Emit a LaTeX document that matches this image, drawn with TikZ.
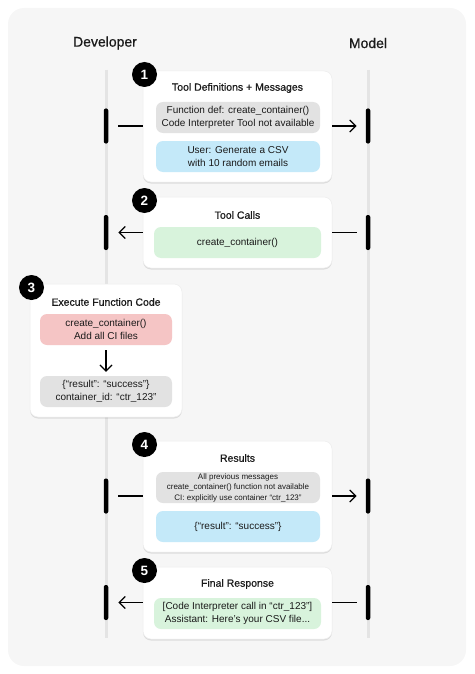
\documentclass[tikz,border=0pt]{standalone}
\usepackage{fontspec}
\setmainfont{Liberation Sans}
\newfontfamily\medfont[FakeBold=0.6]{Liberation Sans}
\usetikzlibrary{arrows.meta,shadows}
\definecolor{panel}{HTML}{F6F6F6}
\definecolor{lifegray}{HTML}{E4E4E4}
\definecolor{subgray}{HTML}{E2E2E2}
\definecolor{subblue}{HTML}{C4E9F9}
\definecolor{subgreen}{HTML}{D8F3DC}
\definecolor{subred}{HTML}{F5C5C5}
\definecolor{ink}{HTML}{1A1A1A}
\begin{document}
\begin{tikzpicture}[x=1pt,y=-1pt,
  every node/.style={text=ink},
  box/.style={fill=white, draw=black!7, line width=0.5pt, rounded corners=8pt, inner sep=0pt,
    drop shadow={shadow xshift=0pt, shadow yshift=-1.5pt, opacity=0.10, fill=black}},
  sub/.style={rounded corners=7pt, inner sep=0pt, align=center, minimum height=31pt,
    font=\fontsize{10}{13.5}\selectfont},
  smallsub/.style={sub, font=\fontsize{8}{10.5}\selectfont},
  title/.style={font=\medfont\fontsize{10.5}{12}\selectfont, inner sep=0pt},
  header/.style={font=\medfont\fontsize{14}{16}\selectfont, inner sep=0pt},
  badge/.style={circle, fill=black, minimum size=25pt, inner sep=0pt,
    text=white, font=\bfseries\fontsize{13.5}{14}\selectfont},
  bar/.style={fill=black, rounded corners=2pt, minimum width=4.5pt, minimum height=35pt, inner sep=0pt},
  lifeline/.style={draw=lifegray, line width=3pt},
  conn/.style={draw=black, line width=1.2pt},
  arr/.style={conn, -{Straight Barb[length=6pt,width=12pt]}}
]
\useasboundingbox (0,0) rectangle (474,674);
% panel
\fill[panel, rounded corners=16pt] (8,8) rectangle (466,666);
% headers
\node[header] (dev) at (105,43) {Developer};
\node[header] (mod) at (368,43) {Model};
% lifelines
\coordinate (devtop) at (106,70);
\coordinate (devbot) at (106,638);
\coordinate (modtop) at (368,70);
\coordinate (modbot) at (368,638);
\draw[lifeline] (devtop) -- (devbot);
\draw[lifeline] (modtop) -- (modbot);

% ---- step 1
\node[box, minimum width=189pt, minimum height=111pt] (box1) at (237.5,126.5) {};
\node[title] (t1) at (237.5,88) {Tool Definitions + Messages};
\node[sub, fill=subgray, minimum width=164pt] (s1a) at (238,117.5) {Function def: create\_container()\\Code Interpreter Tool not available};
\node[sub, fill=subblue, minimum width=164pt] (s1b) at (238,156.5) {User: Generate a CSV\\with 10 random emails};
\node[badge] (b1) at (144.5,74.5) {1};
\node[bar] (l1) at (106,126) {};
\node[bar] (r1) at (368,126) {};
\draw[conn, shorten <=10pt] (l1) -- (l1 -| box1.west);
\draw[arr, shorten >=9pt] (r1 -| box1.east) -- (r1);

% ---- step 2
\node[box, minimum width=189pt, minimum height=71pt] (box2) at (237.5,232.5) {};
\node[title] (t2) at (237.5,215) {Tool Calls};
\node[sub, fill=subgreen, minimum width=167pt] (s2a) at (237.5,242.5) {create\_container()};
\node[badge] (b2) at (144.5,200.5) {2};
\node[bar] (l2) at (106,232.5) {};
\node[bar] (r2) at (368,232.5) {};
\draw[arr, shorten >=10pt] (l2 -| box2.west) -- (l2);
\draw[conn, shorten >=9pt] (r2 -| box2.east) -- (r2);

% ---- step 3
\node[box, minimum width=152pt, minimum height=133pt] (box3) at (106,350.5) {};
\node[title] (t3) at (106,302) {Execute Function Code};
\node[sub, fill=subred, minimum width=132pt] (s3a) at (106,329.5) {create\_container()\\Add all CI files};
\node[sub, fill=subgray, minimum width=132pt] (s3b) at (106,391.5) {\{“result”: “success”\}\\container\_id: “ctr\_123”};
\draw[arr, shorten <=5pt, shorten >=4pt] (s3a) -- (s3b);
\node[badge] (b3) at (31.5,287.5) {3};

% ---- step 4
\node[box, minimum width=189pt, minimum height=111pt] (box4) at (237.5,496.5) {};
\node[title] (t4) at (237.5,458) {Results};
\node[smallsub, fill=subgray, minimum width=164pt] (s4a) at (238,487.5) {All previous messages\\create\_container() function not available\\CI: explicitly use container “ctr\_123”};
\node[sub, fill=subblue, minimum width=164pt] (s4b) at (238,526.5) {\{“result”: “success”\}};
\node[badge] (b4) at (144.5,444.5) {4};
\node[bar] (l4) at (106,496) {};
\node[bar] (r4) at (368,496) {};
\draw[conn, shorten <=10pt] (l4) -- (l4 -| box4.west);
\draw[arr, shorten >=9pt] (r4 -| box4.east) -- (r4);

% ---- step 5
\node[box, minimum width=189pt, minimum height=72pt] (box5) at (237.5,603) {};
\node[title] (t5) at (237.5,584) {Final Response};
\node[sub, fill=subgreen, minimum width=167pt] (s5a) at (237.5,613.5) {[Code Interpreter call in “ctr\_123”]\\Assistant: Here’s your CSV file...};
\node[badge] (b5) at (144.5,570.5) {5};
\node[bar] (l5) at (106,602.5) {};
\node[bar] (r5) at (368,602.5) {};
\draw[arr, shorten >=10pt] (l5 -| box5.west) -- (l5);
\draw[conn, shorten >=9pt] (r5 -| box5.east) -- (r5);
\end{tikzpicture}
\end{document}
